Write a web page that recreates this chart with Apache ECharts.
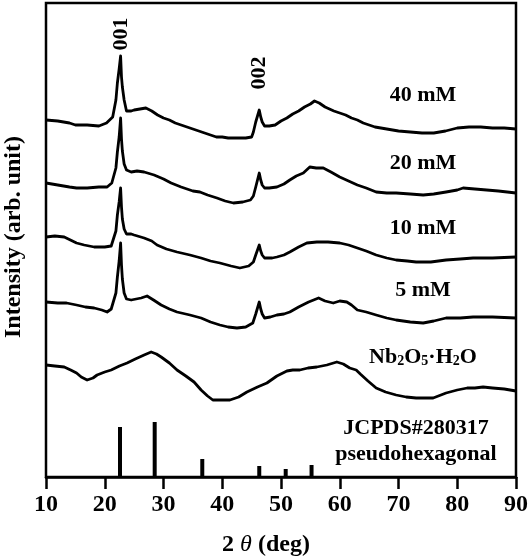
<!DOCTYPE html>
<html>
<head>
<meta charset="utf-8">
<script src="https://cdn.jsdelivr.net/npm/echarts@6/dist/echarts.min.js"></script>
<style>
html,body{margin:0;padding:0;background:#fff;}
#chart{width:531px;height:559px;}
</style>
</head>
<body>
<div id="chart"></div>
<script>
// Intensity readings (arb. unit, stacked offsets) vs 2θ (deg)
const mM40 = [[10,357],[12,356],[14,354],[15,352],[17,352],[19,351],[20.3,354],[21.35,360],[21.9,377],[22.15,394],[22.45,408],[22.7,421],[22.85,400],[23.0,390],[23.3,377],[23.7,366],[24.5,366],[25,367],[26,368],[27,369],[28,366],[29,362],[30,359],[31,357],[32,354],[33,352],[34,350],[35,348],[36,346],[37,344],[38,342],[39,340],[40,340],[41,339],[42,339],[43,339],[44,339],[45,340],[45.3,345],[45.7,355],[46.0,361],[46.3,367],[46.55,360],[46.8,355],[47.2,351],[48,351],[49,352],[50,356],[51,359],[52,363],[53,366],[54,370],[55,373],[55.7,376],[56.5,374],[57.5,370],[59,366],[60,364],[61,362],[62,359],[63,357],[64,354],[65,352],[66,350],[68,348],[70,346],[72,345],[74,344],[76,344],[78,346],[80,349],[82,350],[84,350],[86,349],[88,349],[90,348]];
const mM20 = [[10,294],[12,292],[14,290],[15.2,289],[17,289],[19,290],[20.4,290],[21.2,294],[21.9,309],[22.15,325],[22.45,340],[22.7,359],[22.85,338],[23.0,326],[23.3,313],[23.7,307],[24.5,305],[25.5,306],[26.7,305],[28.4,302],[30,298],[31.3,294],[33,290],[35,286],[36.2,285],[37.5,282],[39.1,279],[40.5,276],[41.9,274],[43.5,275],[44.8,277],[45.3,281],[45.7,290],[46.0,297],[46.3,304],[46.55,297],[46.8,292],[47.2,289],[48,289],[49.3,290],[50.5,293],[51.5,297],[52.6,301],[53.8,304],[54.9,310],[56,309],[57.2,309],[58.5,305],[60,300],[61.5,296],[63,292],[64.5,289],[66.2,285],[68,284],[69.6,284],[72,283],[74.2,282],[76,283],[78.1,285],[80,287],[81,289],[83,288],[85,287],[87,286],[90,284]];
const mM10 = [[10,240],[11.5,241],[13.1,240],[15.2,234],[16.5,232],[18.2,230],[20,230],[21.1,231],[21.9,246],[22.15,262],[22.45,275],[22.7,289],[22.85,270],[23.0,258],[23.3,248],[23.7,243],[24.5,243],[25,242],[26.7,239],[28,236],[28.9,232],[30.5,228],[32.3,225],[34.5,222],[36.4,219],[38,216],[39.6,214],[41.5,211],[43,209],[44.5,211],[45.3,215],[45.7,222],[46.0,227],[46.3,232],[46.55,226],[46.8,222],[47.2,219],[48.5,219],[49.3,220],[50.5,222],[51.5,225],[53,230],[54.4,234],[56.1,235],[58,235],[60,234],[61.5,232],[63,229],[64.5,226],[66.2,222],[68,219],[69.6,217],[71.5,216],[73,215],[75.5,215],[78.1,217],[80.5,218],[82.7,219],[86,219],[90,220]];
const mM5 = [[10,175],[12,174],[13.5,174],[15.2,172],[16.7,170],[18.2,169],[19.5,167],[20.4,165],[21.1,168],[21.9,184],[22.15,200],[22.45,216],[22.7,234],[22.85,212],[23.0,198],[23.3,184],[23.7,178],[24.5,177],[26.2,179],[27.2,181],[28.3,177],[29.6,172],[31,168],[32.3,165],[34.5,162],[36.4,159],[38,155],[39.6,152],[41,150],[42.5,149],[44,150],[45.2,154],[45.7,163],[46.0,169],[46.3,175],[46.55,168],[46.8,163],[47.2,159],[48.2,160],[49.3,162],[50.5,163],[51.5,165],[53,170],[54.7,175],[56.4,179],[57.5,176],[58.9,174],[60,176],[61.2,175],[62,172],[63,167],[64.5,165],[66.2,162],[68,159],[69.6,157],[72,155],[74.2,154],[76,156],[78.1,159],[80.5,159],[82.7,160],[86,160],[90,159]];
const nbHydrate = [[10,112],[11.5,111],[13.1,110],[14.2,107],[15.2,104],[16,100],[17,97],[18,99],[18.7,102],[20,105],[21.1,107],[22.5,111],[23.8,114],[25.2,118],[26.7,122],[27.9,125],[28.8,123],[29.6,120],[31,114],[32.3,107],[33.8,101],[35.2,95],[36.4,87],[37.5,81],[38.4,77],[40,77],[41.3,77],[42.8,80],[44.2,85],[46,90],[47.6,94],[49.3,101],[51,106],[52,107],[53.2,107],[54.6,109],[56.1,110],[57.8,112],[59.5,115],[60.6,113],[61.7,109],[62.8,107],[63.5,103],[64.8,96],[66.2,89],[67.8,85],[69.6,82],[71.3,80],[73,79],[75.9,79],[78.1,84],[80,87],[81.7,89],[83,89],[84.4,90],[86,89],[88,88],[90,86]];
// JCPDS#280317 reference lines
const refPos = [22.6, 28.5, 36.6, 46.3, 50.8, 55.2];
const refInt = [50, 55, 18, 11, 8, 12];
const xTicks = [10, 20, 30, 40, 50, 60, 70, 80, 90];

const FONT = "'Liberation Serif','Times New Roman',serif";
const chart = echarts.init(document.getElementById('chart'));

function lineSeries(data) {
  return {
    type: 'line', data: data, showSymbol: false, symbol: 'none',
    lineStyle: { color: '#000', width: 2.8, join: 'round' }, silent: true, animation: false
  };
}
function label(text, x, y, extra) {
  return Object.assign({
    type: 'text', x: x, y: y, silent: true,
    style: { text: text, fill: '#000', font: 'bold 22px ' + FONT, align: 'center', verticalAlign: 'middle' }
  }, extra || {});
}

chart.setOption({
  animation: false,
  backgroundColor: '#fff',
  grid: { left: 46, right: 15, top: 3, bottom: 82, show: true, borderColor: '#000', borderWidth: 2.5, backgroundColor: 'transparent' },
  xAxis: {
    type: 'value', min: xTicks[0], max: xTicks[xTicks.length - 1], interval: 10,
    splitLine: { show: false },
    axisLine: { lineStyle: { color: '#000', width: 2.5 } },
    axisTick: { inside: false, length: 12, lineStyle: { color: '#000', width: 2.5 } },
    axisLabel: { color: '#000', fontFamily: FONT, fontWeight: 'bold', fontSize: 24, margin: 16 }
  },
  yAxis: {
    type: 'value', min: 0, max: 474,
    axisLine: { show: false }, axisTick: { show: false }, axisLabel: { show: false }, splitLine: { show: false }
  },
  series: [
    lineSeries(mM40), lineSeries(mM20), lineSeries(mM10), lineSeries(mM5), lineSeries(nbHydrate),
    {
      type: 'bar', barWidth: 4, silent: true,
      data: refPos.map((p, i) => [p, refInt[i]]),
      itemStyle: { color: '#000' }
    }
  ],
  graphic: [
    label('001', 121, 34, { rotation: Math.PI / 2 }),
    label('002', 259, 73, { rotation: Math.PI / 2 }),
    label('40 mM', 423, 95),
    label('20 mM', 423, 163),
    label('10 mM', 423, 228),
    label('5 mM', 423, 290),
    {
      type: 'text', x: 423, y: 357, silent: true,
      style: {
        text: 'Nb{s|2}O{s|5}·H{s|2}O', align: 'center', verticalAlign: 'middle',
        fill: '#000', font: 'bold 22px ' + FONT,
        rich: { s: { fontFamily: FONT, fontWeight: 'bold', fontSize: 14, verticalAlign: 'bottom', lineHeight: 14, padding: [0, 0, 0, 0] } }
      }
    },
    label('JCPDS#280317', 416, 428),
    label('pseudohexagonal', 416, 454),
    {
      type: 'text', x: 266, y: 545, silent: true,
      style: {
        text: '2 {i|θ} (deg)', align: 'center', verticalAlign: 'middle',
        fill: '#000', font: 'bold 24px ' + FONT,
        rich: { i: { fontFamily: FONT, fontStyle: 'italic', fontWeight: 'normal', fontSize: 24 } }
      }
    },
    {
      type: 'text', x: 14, y: 237, rotation: Math.PI / 2, silent: true,
      style: { text: 'Intensity (arb. unit)', fill: '#000', font: 'bold 24px ' + FONT, align: 'center', verticalAlign: 'middle' }
    }
  ]
});
</script>
</body>
</html>
